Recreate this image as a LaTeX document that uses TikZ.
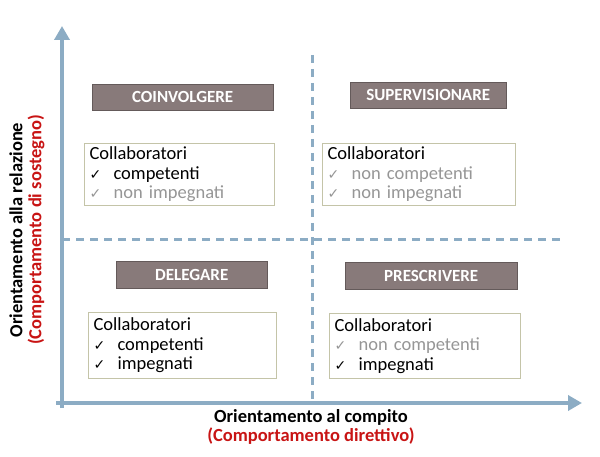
\documentclass[tikz,border=0pt]{standalone}
\usepackage{fontspec}
\setmainfont{Carlito}
\newfontfamily\symf{DejaVu Sans}
\usetikzlibrary{arrows.meta}
\definecolor{axc}{RGB}{140,172,196}
\definecolor{boxf}{RGB}{136,122,122}
\definecolor{boxd}{RGB}{100,90,90}
\definecolor{bord}{RGB}{196,196,168}
\definecolor{redt}{RGB}{200,20,20}
\definecolor{greyt}{RGB}{150,150,150}
\newcommand{\ck}{{\symf\fontsize{14}{14}\selectfont ✓}\ \ }
\tikzset{
 titlebox/.style={draw=boxd,fill=boxf,text=white,font=\bfseries\fontsize{17}{18}\selectfont,anchor=north west,inner sep=0pt},
 collbox/.style={draw=bord,line width=1pt,fill=white,anchor=north west,inner xsep=0pt,inner ysep=0pt,text width=#1,align=left,font=\fontsize{18.5}{19.5}\selectfont},
 axis/.style={draw=axc,line width=4.5pt,-{Triangle[length=14pt,width=15pt]}},
 dsh/.style={draw=axc,line width=3pt,dash pattern=on 8pt off 6pt},
 axlab/.style={font=\bfseries\fontsize{18.5}{19}\selectfont,align=center}
}
\begin{document}
\begin{tikzpicture}[x=1pt,y=-1pt]
\useasboundingbox (0,0) rectangle (600,457);
\coordinate (vtop) at (312,55); \coordinate (vbot) at (312,403);
\coordinate (hl) at (62,240); \coordinate (hr) at (562,240);
\draw[dsh] (vtop) -- (vbot);
\draw[dsh] (hl) -- (hr);
\coordinate (ytip) at (62,26); \coordinate (xtip) at (582,403);
\coordinate (o2) at (56,403); \coordinate (o3) at (62,408);
\draw[axis] (o2) -- (xtip);
\draw[axis] (o3) -- (ytip);
\node[titlebox,minimum width=181pt,minimum height=26pt] (t1) at (92,84) {COINVOLGERE};
\node[titlebox,minimum width=156pt,minimum height=26pt] (t2) at (350,82) {SUPERVISIONARE};
\node[titlebox,minimum width=151pt,minimum height=27pt] (t3) at (116,261) {DELEGARE};
\node[titlebox,minimum width=172pt,minimum height=27pt] (t4) at (345,262) {PRESCRIVERE};
\node[collbox=190pt,minimum height=62pt] (c1) at (84,143) {\hspace*{5pt}Collaboratori\\\hspace*{5pt}\ck competenti\\\hspace*{5pt}{\color{greyt}\ck non impegnati}};
\node[collbox=193pt,minimum height=62pt] (c2) at (322,143) {\hspace*{5pt}Collaboratori\\\hspace*{5pt}{\color{greyt}\ck non competenti}\\\hspace*{5pt}{\color{greyt}\ck non impegnati}};
\node[collbox=188pt,minimum height=66pt] (c3) at (88,312) {\hspace*{5pt}Collaboratori\\\hspace*{5pt}\ck competenti\\\hspace*{5pt}\ck impegnati};
\node[collbox=191pt,minimum height=65pt] (c4) at (329,313) {\hspace*{5pt}Collaboratori\\\hspace*{5pt}{\color{greyt}\ck non competenti}\\\hspace*{5pt}\ck impegnati};
\node[axlab] (xl) at (311,427) {Orientamento al compito\\{\color{redt}(Comportamento direttivo)}};
\node[axlab,rotate=90] (yl) at (27,230) {Orientamento alla relazione\\{\color{redt}(Comportamento di sostegno)}};
\end{tikzpicture}
\end{document}
